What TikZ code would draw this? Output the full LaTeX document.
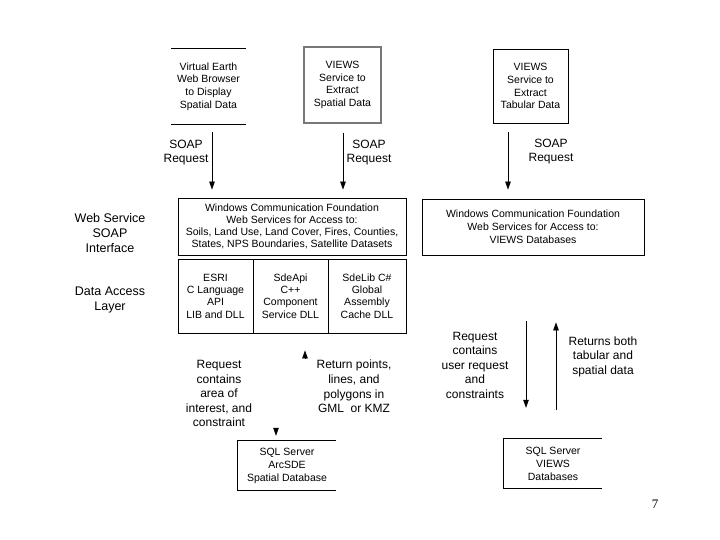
\documentclass[tikz,border=0pt]{standalone}
\usepackage{fontspec}
\setmainfont{Liberation Sans}
\newfontfamily\serifpg{Liberation Serif}
\usetikzlibrary{arrows.meta,calc}
\begin{document}
\begin{tikzpicture}[x=1pt,y=-1pt,
  arr/.style={line width=0.8pt,-{Triangle[width=5.5pt,length=8pt]}},
  boxtxt/.style={inner sep=0pt,align=center,font=\fontsize{10.5}{12.8}\selectfont},
  fullbox/.style={boxtxt,draw,line width=0.8pt},
  lbl/.style={inner sep=0pt,align=center,font=\fontsize{12}{14.3}\selectfont},
  sidelbl/.style={inner sep=0pt,align=center,font=\fontsize{12.5}{14.6}\selectfont},
  edge/.style={line width=0.8pt}]
\useasboundingbox (0,0) rectangle (720,540);
\fill[white] (0,0) rectangle (720,540);

% top boxes
\node[boxtxt,minimum width=75pt,minimum height=75pt] (ve) at (208.5,86.5)
  {Virtual Earth\\Web Browser\\to Display\\Spatial Data};
\draw[edge] (ve.north west) -- (ve.north east);
\draw[edge] (ve.south west) -- (ve.south east);
\node[boxtxt,draw={rgb,255:red,120;green,120;blue,120},line width=1.6pt,minimum width=77pt,minimum height=76pt] (vs) at (342.5,85)
  {VIEWS\\Service to\\Extract\\Spatial Data};
\node[fullbox,minimum width=75pt,minimum height=74pt] (vt) at (530.5,86)
  {VIEWS\\Service to\\Extract\\Tabular Data};

% WCF boxes
\node[fullbox,minimum width=228pt,minimum height=57pt,font=\fontsize{10.5}{12}\selectfont] (wcf1) at (292,226.5)
  {Windows Communication Foundation\\Web Services for Access to:\\Soils, Land Use, Land Cover, Fires, Counties,\\States, NPS Boundaries, Satellite Datasets};
\node[fullbox,minimum width=222pt,minimum height=56pt,font=\fontsize{10.5}{12.8}\selectfont] (wcf2) at (533,227)
  {Windows Communication Foundation\\Web Services for Access to:\\VIEWS Databases};

% data access layer
\node[fullbox,minimum width=75pt,minimum height=74pt,font=\fontsize{10.5}{12.3}\selectfont] (esri) at (215.5,296)
  {ESRI\\C Language\\API\\LIB and DLL};
\node[fullbox,minimum width=75pt,minimum height=74pt,font=\fontsize{10.5}{12.3}\selectfont] (sdeapi) at (290.5,296)
  {SdeApi\\C++\\Component\\Service DLL};
\node[fullbox,minimum width=78pt,minimum height=74pt,font=\fontsize{10.5}{12.3}\selectfont] (sdelib) at (367,296)
  {SdeLib C\#\\Global\\Assembly\\Cache DLL};

% SQL boxes
\node[boxtxt,minimum width=98pt,minimum height=49pt,font=\fontsize{10.5}{13}\selectfont] (sql1) at (287,465.5)
  {SQL Server\\ArcSDE\\Spatial Database};
\draw[edge] (sql1.north east) -- (sql1.north west) -- (sql1.south west) -- (sql1.south east);
\node[boxtxt,minimum width=98pt,minimum height=49pt,font=\fontsize{10.5}{13}\selectfont] (sql2) at (553,463.5)
  {SQL Server\\VIEWS\\Databases};
\draw[edge] (sql2.north east) -- (sql2.north west) -- (sql2.south west) -- (sql2.south east);

% side labels
\node[sidelbl] (wslbl) at (110,233) {Web Service\\SOAP\\Interface};
\node[sidelbl] (dallbl) at (110,300) {Data Access\\Layer};

% SOAP request labels
\node[lbl,font=\fontsize{12}{14}\selectfont] (s1) at (186,153) {SOAP\\Request};
\node[lbl,font=\fontsize{12}{14}\selectfont] (s2) at (369,153) {SOAP\\Request};
\node[lbl,font=\fontsize{12}{14}\selectfont] (s3) at (551,152) {SOAP\\Request};

% top arrows
\coordinate (a1t) at ([xshift=3.5pt,yshift=-8pt]ve.south);
\coordinate (a1b) at (a1t |- wcf1.north);
\draw[arr,shorten >=8pt] (a1t) -- (a1b);
\coordinate (a2t) at ([xshift=0.5pt,yshift=-9pt]vs.south);
\coordinate (a2b) at (a2t |- wcf1.north);
\draw[arr,shorten >=8pt] (a2t) -- (a2b);
\coordinate (a3t) at ([xshift=-22.5pt,yshift=-9pt]vt.south);
\coordinate (a3b) at (a3t |- wcf2.north);
\draw[arr,shorten >=9pt] (a3t) -- (a3b);

% bottom right arrows
\coordinate (d1t) at ([xshift=-7pt,yshift=-66pt]wcf2.south);
\coordinate (d1b) at (d1t |- sql2.north);
\draw[arr,shorten >=31pt] (d1t) -- (d1b);
\coordinate (u1b) at ([xshift=3pt,yshift=29pt]sql2.north);
\coordinate (u1t) at (u1b |- wcf2.south);
\draw[arr,shorten >=67pt] (u1b) -- (u1t);

% bottom left arrowheads
\coordinate (h1b) at ([xshift=-11pt,yshift=5pt]sql1.north);
\coordinate (h1t) at ([yshift=8pt]h1b);
\draw[arr] (h1t) -- (h1b);
\coordinate (h2t) at ([xshift=14.5pt,yshift=-17pt]sdeapi.south);
\coordinate (h2b) at ([yshift=-8pt]h2t);
\draw[arr] (h2b) -- (h2t);

% bottom texts
\node[lbl,font=\fontsize{12}{14.5}\selectfont] (req1) at (219,393.5)
  {Request\\contains\\area of\\interest, and\\constraint};
\node[lbl,font=\fontsize{12}{14.8}\selectfont] (ret1) at (354,386.5)
  {Return points,\\lines, and\\polygons in\\GML\ \ or KMZ};
\node[lbl,font=\fontsize{12}{14.5}\selectfont] (req2) at (475,365)
  {Request\\contains\\user request\\and\\constraints};
\node[lbl,font=\fontsize{12}{14.5}\selectfont] (ret2) at (603,356.5)
  {Returns both\\tabular and\\spatial data};

\node[inner sep=0pt,font=\serifpg\fontsize{13}{15}\selectfont] (pg) at (655,504) {7};
\end{tikzpicture}
\end{document}
